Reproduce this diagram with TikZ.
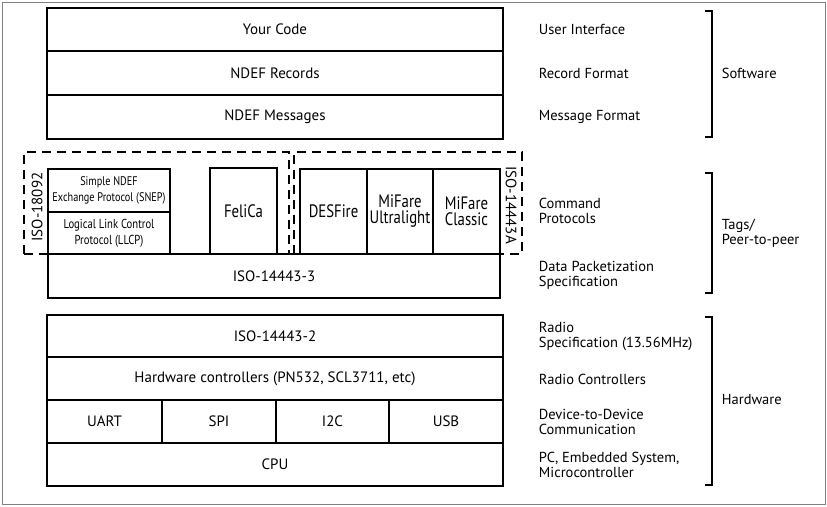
\documentclass[tikz,border=0pt]{standalone}
\usepackage{fontspec}
\setmainfont{PT Sans}
\newfontfamily\narrowf[FakeStretch=0.82]{PT Sans}
\begin{document}
\begin{tikzpicture}[x=1pt,y=-1pt,line width=1.8pt,
 bx/.style={draw,rectangle,align=center,inner sep=0pt,font=\fontsize{15}{16}\selectfont},
 lbl/.style={anchor=west,align=left,inner sep=0pt,font=\fontsize{14.5}{15}\selectfont},
 dsh/.style={dash pattern=on 9pt off 6pt,line width=1.9pt}]
\useasboundingbox (0,0) rectangle (827,506);
\draw[line width=0.6pt,gray] (2,2) rectangle (825,504);
\def\B#1#2#3#4#5#6{\node[bx,minimum width=#4-#2,minimum height=#5-#3] (#1) at ({(#2+#4)/2},{(#3+#5)/2}) {#6};}
\B{yc}{47}{8}{503}{51}{Your Code}
\B{nr}{47}{51}{503}{95}{NDEF Records}
\B{nm}{47}{95}{503}{139}{NDEF Messages}
\draw[dsh] (24,254) -- (24,152) -- (289,152) -- (289,254);
\draw[dsh] (294,254) -- (294,152) -- (522,152) -- (522,254) -- (500,254);
\draw[dsh] (24,254) -- (48,254);
\B{snep}{48}{169}{170}{212}{\narrowf\fontsize{12.5}{13.5}\selectfont Simple NDEF\\\narrowf\fontsize{12.5}{13.5}\selectfont Exchange Protocol (SNEP)}
\B{llcp}{48}{212}{170}{254}{\narrowf\fontsize{13}{15}\selectfont Logical Link Control\\\narrowf\fontsize{13}{15}\selectfont Protocol (LLCP)}
\B{fel}{210}{168}{277}{254}{\narrowf\fontsize{18}{19}\selectfont FeliCa}
\B{des}{300}{169}{367}{254}{\narrowf\fontsize{18}{19}\selectfont DESFire}
\B{mu}{367}{169}{433}{254}{\narrowf\fontsize{18}{19}\selectfont MiFare\\\narrowf\fontsize{18}{19}\selectfont Ultralight}
\B{mc}{433}{169}{500}{254}{\narrowf\fontsize{18}{19}\selectfont MiFare\\\narrowf\fontsize{18}{19}\selectfont Classic}
\B{iso3}{48}{254}{500}{298}{ISO-14443-3}
\node[rotate=90,font=\fontsize{15}{16}\selectfont,inner sep=0pt] (i18) at (37,207) {ISO-18092};
\node[rotate=-90,font=\fontsize{15}{16}\selectfont,inner sep=0pt] (i14) at (511,205) {ISO-14443A};
\B{iso2}{47}{315}{503}{357}{ISO-14443-2}
\B{hw}{47}{357}{503}{400}{Hardware controllers (PN532, SCL3711, etc)}
\B{uart}{47}{400}{162}{443}{UART}
\B{spi}{162}{400}{276}{443}{SPI}
\B{i2c}{276}{400}{389}{443}{I2C}
\B{usb}{389}{400}{503}{443}{USB}
\B{cpu}{47}{443}{503}{486}{CPU}
\node[lbl] (l1) at (538,29) {User Interface};
\node[lbl] (l2) at (538,73) {Record Format};
\node[lbl] (l3) at (538,117) {Message Format};
\node[lbl] (l4) at (538,211) {Command\\Protocols};
\node[lbl] (l5) at (538,275) {Data Packetization\\Specification};
\node[lbl] (l6) at (538,336) {Radio\\Specification (13.56MHz)};
\node[lbl] (l7) at (538,379) {Radio Controllers};
\node[lbl] (l8) at (538,422) {Device-to-Device\\Communication};
\node[lbl] (l9) at (538,465) {PC, Embedded System,\\Microcontroller};
\draw[line width=1.4pt] (705,11) -- (712,11) -- (712,137) -- (705,137);
\draw[line width=1.4pt] (705,173) -- (712,173) -- (712,293) -- (705,293);
\draw[line width=1.4pt] (705,317) -- (712,317) -- (712,485) -- (705,485);
\node[lbl] (s) at (721,73) {Software};
\node[lbl] (t) at (721,233) {Tags/\\Peer-to-peer};
\node[lbl] (h) at (721,400) {Hardware};
\end{tikzpicture}
\end{document}
